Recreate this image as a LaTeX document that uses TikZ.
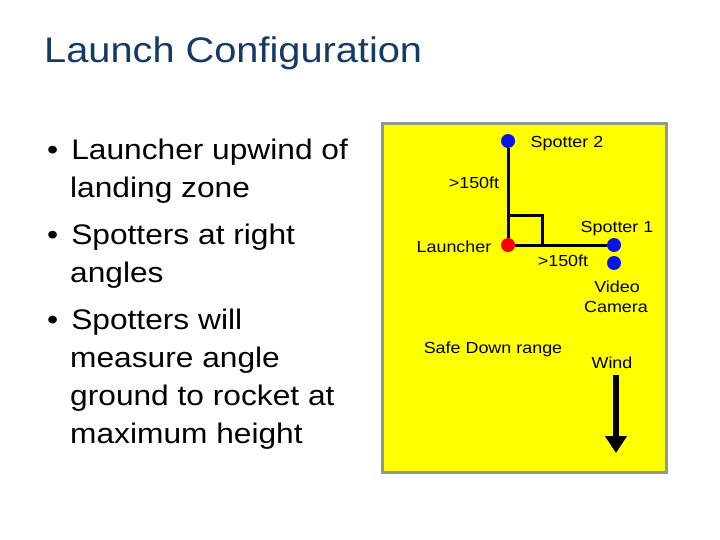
\documentclass[tikz,border=0pt]{standalone}
\usepackage{fontspec}
\setmainfont{Liberation Sans}[FakeStretch=1.12]
\usetikzlibrary{arrows.meta}
\definecolor{titleblue}{HTML}{153A66}
\definecolor{boxborder}{HTML}{8E9A8E}
\definecolor{spotblue}{HTML}{0A14E6}
\definecolor{field}{HTML}{FFFF00}
\tikzset{
  titletext/.style={anchor=base west, inner sep=0pt, text=titleblue, font=\fontsize{35.5}{40}\selectfont},
  bullettext/.style={anchor=base west, inner sep=0pt, font=\fontsize{28.3}{32}\selectfont},
  label/.style={anchor=base, inner sep=0pt, font=\fontsize{16}{18}\selectfont},
  dot/.style={circle, inner sep=0pt, minimum size=14pt},
  leg/.style={line width=3pt},
}
\begin{document}
\begin{tikzpicture}[x=1pt, y=-1pt]
\useasboundingbox (0,0) rectangle (720,540);
\fill[white] (0,0) rectangle (720,540);
% title
\node[titletext] (title) at (44,63) {Launch Configuration};
% bullets
\node[bullettext] (b1) at (47,160) {•\hspace{13pt}Launcher upwind of};
\node[bullettext] (b2) at (70,198) {landing zone};
\node[bullettext] (b3) at (47,244) {•\hspace{13pt}Spotters at right};
\node[bullettext] (b4) at (70,282) {angles};
\node[bullettext] (b5) at (47,329) {•\hspace{13pt}Spotters will};
\node[bullettext] (b6) at (70,367) {measure angle};
\node[bullettext] (b7) at (70,405) {ground to rocket at};
\node[bullettext] (b8) at (70,443) {maximum height};
% yellow field
\draw[boxborder, line width=3pt, fill=field] (382.5,123.5) rectangle (666.5,472.5);
% right angle mark
\coordinate (ra1) at (508,216);
\coordinate (ra2) at (542,216);
\coordinate (ra3) at (542,245);
\draw[leg] (ra1) -- (ra2) -- (ra3);
% dots
\node[dot, fill=spotblue] (sp2) at (508,141) {};
\node[dot, fill=red] (launch) at (508,245) {};
\node[dot, fill=spotblue] (sp1) at (614,245) {};
\node[dot, fill=spotblue] (cam) at (614,263) {};
\draw[leg] (sp2) -- (launch);
\draw[leg] (launch) -- (sp1);
% labels
\node[label] (lsp2) at (567,148) {Spotter 2};
\node[label] (ld2) at (474,189) {>150ft};
\node[label] (lsp1) at (617,233) {Spotter 1};
\node[label] (llaunch) at (454,252) {Launcher};
\node[label] (ld1) at (563,266) {>150ft};
\node[label] (lvid) at (617,292) {Video};
\node[label] (lcam) at (616,312) {Camera};
\node[label] (lsafe) at (493,353) {Safe Down range};
\node[label] (lwind) at (612,368) {Wind};
% wind arrow
\coordinate (w1) at (616,375);
\coordinate (w2) at (616,453);
\draw[line width=6pt, -{Triangle[length=17pt, width=21pt]}] (w1) -- (w2);
\end{tikzpicture}
\end{document}
